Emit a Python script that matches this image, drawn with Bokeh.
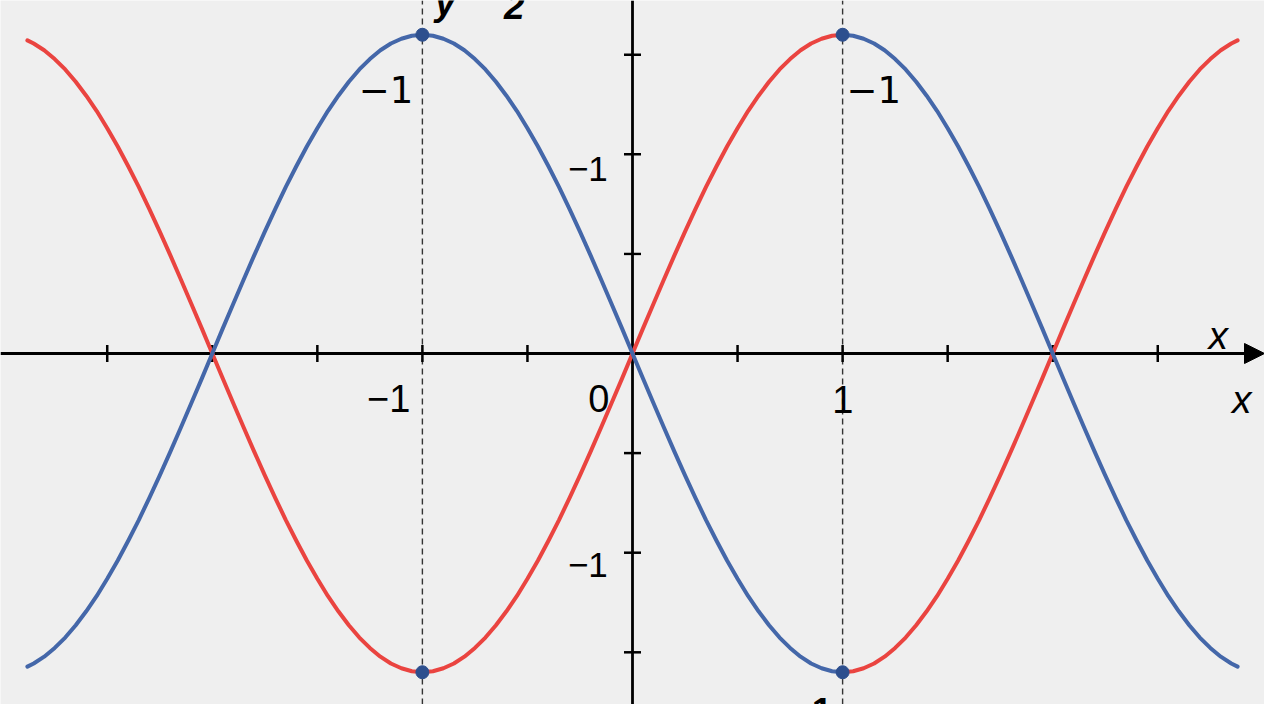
import math
from bokeh.plotting import figure
from bokeh.models import Arrow, NormalHead
from bokeh.core.properties import value
from bokeh.embed import file_html
from bokeh.resources import INLINE

# ---------------- data ----------------
x_left = [-2.88, -2.85, -2.80, -2.75, -2.70, -2.65, -2.60, -2.55, -2.50, -2.45,
          -2.40, -2.35, -2.30, -2.25, -2.20, -2.15, -2.10, -2.05, -2.00, -1.95,
          -1.90, -1.85, -1.80, -1.75, -1.70, -1.65, -1.60, -1.55, -1.50, -1.45,
          -1.40, -1.35, -1.30, -1.25, -1.20, -1.15, -1.10, -1.05, -1.00, -0.95,
          -0.90, -0.85, -0.80, -0.75, -0.70, -0.65, -0.60, -0.55, -0.50, -0.45,
          -0.40, -0.35, -0.30, -0.25, -0.20, -0.15, -0.10, -0.05, 0.00, 0.05,
          0.10, 0.15, 0.20, 0.25, 0.30, 0.35, 0.40, 0.45, 0.50, 0.55,
          0.60, 0.65, 0.70, 0.75, 0.80, 0.85, 0.90, 0.95, 1.00]
red_left = [1.572, 1.556, 1.522, 1.478, 1.426, 1.364, 1.294, 1.217, 1.131, 1.039,
            0.940, 0.836, 0.726, 0.612, 0.494, 0.373, 0.250, 0.126, 0.000, -0.126,
            -0.250, -0.373, -0.494, -0.612, -0.726, -0.836, -0.940, -1.039, -1.131, -1.217,
            -1.294, -1.364, -1.426, -1.478, -1.522, -1.556, -1.580, -1.595, -1.600, -1.595,
            -1.580, -1.556, -1.522, -1.478, -1.426, -1.364, -1.294, -1.217, -1.131, -1.039,
            -0.940, -0.836, -0.726, -0.612, -0.494, -0.373, -0.250, -0.126, 0.000, 0.126,
            0.250, 0.373, 0.494, 0.612, 0.726, 0.836, 0.940, 1.039, 1.131, 1.217,
            1.294, 1.364, 1.426, 1.478, 1.522, 1.556, 1.580, 1.595, 1.600]
blue_left = [-1.572, -1.556, -1.522, -1.478, -1.426, -1.364, -1.294, -1.217, -1.131, -1.039,
             -0.940, -0.836, -0.726, -0.612, -0.494, -0.373, -0.250, -0.126, 0.000, 0.126,
             0.250, 0.373, 0.494, 0.612, 0.726, 0.836, 0.940, 1.039, 1.131, 1.217,
             1.294, 1.364, 1.426, 1.478, 1.522, 1.556, 1.580, 1.595, 1.600, 1.595,
             1.580, 1.556, 1.522, 1.478, 1.426, 1.364, 1.294, 1.217, 1.131, 1.039,
             0.940, 0.836, 0.726, 0.612, 0.494, 0.373, 0.250, 0.126, 0.000, -0.126,
             -0.250, -0.373, -0.494, -0.612, -0.726, -0.836, -0.940, -1.039, -1.131, -1.217,
             -1.294, -1.364, -1.426, -1.478, -1.522, -1.556, -1.580, -1.595, -1.600]

x_right = [1.00, 1.05, 1.10, 1.15, 1.20, 1.25, 1.30, 1.35, 1.40, 1.45,
           1.50, 1.55, 1.60, 1.65, 1.70, 1.75, 1.80, 1.85, 1.90, 1.95,
           2.00, 2.05, 2.10, 2.15, 2.20, 2.25, 2.30, 2.35, 2.40, 2.45,
           2.50, 2.55, 2.60, 2.65, 2.70, 2.75, 2.80, 2.85, 2.88]
red_right = [-1.600, -1.595, -1.580, -1.556, -1.522, -1.478, -1.426, -1.364, -1.294, -1.217,
             -1.131, -1.039, -0.940, -0.836, -0.726, -0.612, -0.494, -0.373, -0.250, -0.126,
             0.000, 0.126, 0.250, 0.373, 0.494, 0.612, 0.726, 0.836, 0.940, 1.039,
             1.131, 1.217, 1.294, 1.364, 1.426, 1.478, 1.522, 1.556, 1.572]
blue_right = [1.600, 1.595, 1.580, 1.556, 1.522, 1.478, 1.426, 1.364, 1.294, 1.217,
              1.131, 1.039, 0.940, 0.836, 0.726, 0.612, 0.494, 0.373, 0.250, 0.126,
              0.000, -0.126, -0.250, -0.373, -0.494, -0.612, -0.726, -0.836, -0.940, -1.039,
              -1.131, -1.217, -1.294, -1.364, -1.426, -1.478, -1.522, -1.556, -1.572]

dot_x = [-1.0, -1.0, 1.0, 1.0]
dot_y = [1.600, -1.600, 1.600, -1.600]

guide_x = [-1.0, 1.0]

x_ticks = [-2.5, -2.0, -1.5, -1.0, -0.5, 0.5, 1.0, 1.5, 2.0, 2.5]
y_ticks = [-1.5, -1.0, -0.5, 0.5, 1.0, 1.5]

x_tick_labels = ["\u22121", "0", "1"]
y_tick_labels = ["\u22121", "\u22121"]
peak_labels = ["\u22121", "\u22121"]
axis_names = ["x", "x"]

# ---------------- styling ----------------
BG = "#efefef"
RED = "#ea4440"
BLUE = "#4467a9"
DOT = "#2d4f8e"

X0, X1 = -3.008, 3.008
Y0, Y1 = -1.762, 1.772

p = figure(width=1264, height=704, x_range=(X0, X1), y_range=(Y0, Y1),
           output_backend="svg", toolbar_location=None,
           x_axis_location=None, y_axis_location=None, min_border=0,
           background_fill_color=BG, border_fill_color=BG,
           outline_line_color=None)
p.xgrid.visible = False
p.ygrid.visible = False

# dashed guides
p.segment(x0=guide_x, y0=[Y0] * 2, x1=guide_x, y1=[Y1] * 2,
          line_color="#333333", line_width=1.4, line_dash="6 4")

# axes
p.segment(x0=[X0], y0=[0], x1=[X1 - 0.08], y1=[0], line_color="black", line_width=2.8)
p.segment(x0=[0], y0=[Y0], x1=[0], y1=[Y1], line_color="black", line_width=2.8)
p.add_layout(Arrow(end=NormalHead(size=20, fill_color="black", line_color="black"),
                   x_start=X1 - 0.12, y_start=0, x_end=X1, y_end=0,
                   line_color="black", line_width=2.8))
p.scatter(x=x_ticks, y=[0] * len(x_ticks), marker="dash", size=17, angle=math.pi / 2,
          line_color="black", line_width=2.5)
p.scatter(x=[0] * len(y_ticks), y=y_ticks, marker="dash", size=17,
          line_color="black", line_width=2.5)

# curves
lw = 4.0
p.line(x_left, red_left, line_color=RED, line_width=lw, line_cap="round", line_join="round")
p.line(x_right, red_right, line_color=RED, line_width=lw, line_cap="round", line_join="round")
p.line(x_left, blue_left, line_color=BLUE, line_width=lw, line_cap="round", line_join="round")
p.line(x_right, blue_right, line_color=BLUE, line_width=lw, line_cap="round", line_join="round")

# points
p.scatter(dot_x, dot_y, size=13, fill_color=DOT, line_color=DOT)

# texts (positions given in reference pixels, converted to data units)
def px(xp):
    return (xp - 640) / 212.75

def py(yp):
    return (361 - yp) / 203.7

p.text(x=[px(415)], y=[py(407)], text=[x_tick_labels[0]], text_align="right",
       text_baseline="alphabetic", text_font=value("Liberation Sans"),
       text_font_size="38px", text_color="black")
p.text(x=[px(606), px(853)], y=[py(407), py(408)], text=x_tick_labels[1:], text_align="center",
       text_baseline="alphabetic", text_font=value("Liberation Sans"),
       text_font_size="38px", text_color="black")
p.text(x=[px(615), px(615)], y=[py(172), py(577)], text=y_tick_labels, text_align="right",
       text_baseline="alphabetic", text_font=value("Liberation Sans"),
       text_font_size="35px", text_color="black")
p.text(x=[px(418), px(912)], y=[py(91), py(91)], text=peak_labels, text_align="right",
       text_baseline="alphabetic", text_font=value("DejaVu Sans"),
       text_font_size="37px", text_color="black")
p.text(x=[px(1233), px(1257)], y=[py(343), py(408)], text=axis_names, text_align="center",
       text_baseline="alphabetic", text_font=value("Liberation Sans"),
       text_font_style="italic", text_font_size="39px", text_color="black")
p.text(x=[px(440)], y=[py(2)], text=["y"], text_align="left", text_baseline="alphabetic",
       text_font=value("Liberation Sans"), text_font_style="bold italic",
       text_font_size="37px", text_color="black")
p.text(x=[px(510)], y=[py(6)], text=["2"], text_align="left", text_baseline="alphabetic",
       text_font=value("Liberation Sans"), text_font_style="bold italic",
       text_font_size="37px", text_color="black")
p.text(x=[px(832)], y=[py(713)], text=["1"], text_align="center", text_baseline="top",
       text_font=value("Liberation Sans"), text_font_style="bold",
       text_font_size="37px", text_color="black")

open("out.html", "w").write(file_html(p, INLINE))
